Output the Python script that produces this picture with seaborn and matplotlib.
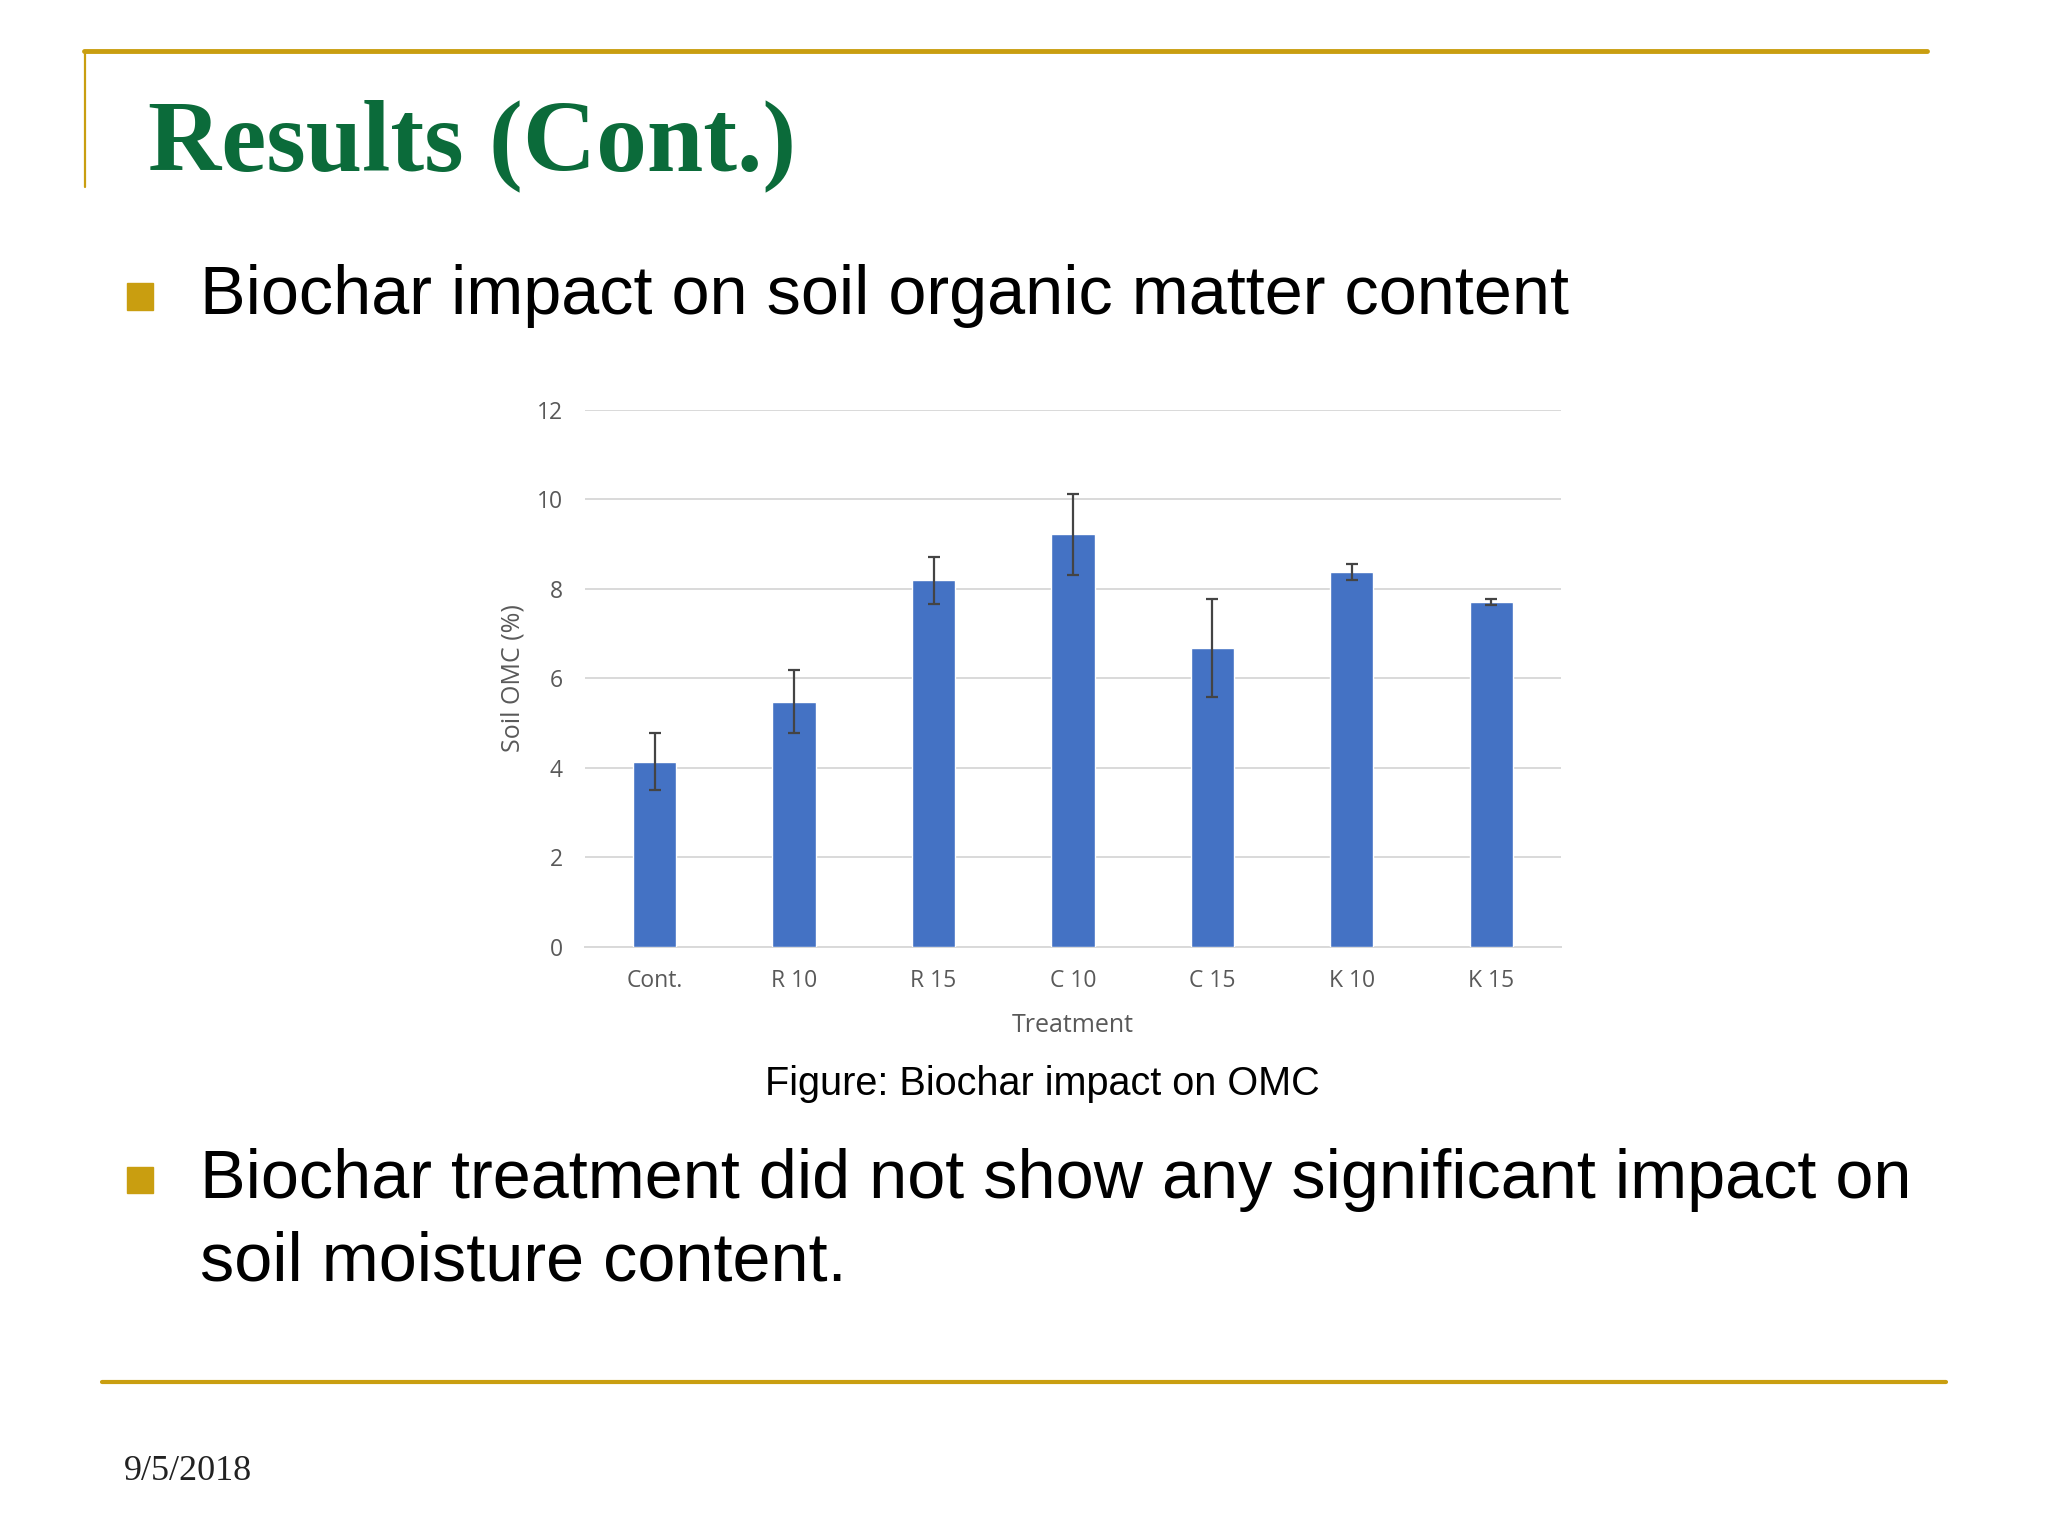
import matplotlib
matplotlib.use('Agg')
import pandas as pd
import seaborn as sns
import matplotlib.pyplot as plt
from matplotlib.patches import Rectangle
from matplotlib.lines import Line2D

# data
treatments = ['Cont.', 'R 10', 'R 15', 'C 10', 'C 15', 'K 10', 'K 15']
omc = [4.14, 5.48, 8.19, 9.22, 6.68, 8.38, 7.71]
omc_err = [0.63, 0.71, 0.52, 0.91, 1.09, 0.18, 0.06]
yticks = [0, 2, 4, 6, 8, 10, 12]

gold = '#C99E10'
green = '#0B6B3A'
grey = '#595959'

sns.set_style('white')
plt.rcParams['font.family'] = ['Open Sans', 'DejaVu Sans']

df = pd.DataFrame({'Treatment': treatments, 'OMC': omc})

fig = plt.figure(figsize=(20.48, 15.36), dpi=100)
ax = fig.add_axes([0.2856, 0.3835, 0.4766, 0.3496])

sns.barplot(data=df, x='Treatment', y='OMC', color='#4472C4', saturation=1,
            width=0.31, ax=ax, zorder=3)
ax.errorbar(range(len(treatments)), omc, yerr=omc_err, fmt='none',
            ecolor='#444444', elinewidth=1.6, capsize=4.5, capthick=1.6, zorder=4)

ax.set_ylim(0, 12)
ax.set_xlim(-0.5, len(treatments) - 0.5)
ax.set_yticks(yticks)
ax.yaxis.grid(True, color='#d9d9d9', lw=1.4, zorder=0)
ax.xaxis.grid(False)
for s in ['top', 'right', 'left']:
    ax.spines[s].set_visible(False)
ax.spines['bottom'].set_color('#d9d9d9')
ax.spines['bottom'].set_linewidth(1.4)
ax.tick_params(axis='both', length=0, labelsize=16.5, labelcolor=grey)
ax.tick_params(axis='x', pad=16)
ax.tick_params(axis='y', pad=16)
ax.set_xlabel('Treatment', fontsize=18, color=grey, labelpad=14)
ax.set_ylabel('Soil OMC (%)', fontsize=18, color=grey, labelpad=8)

# slide decoration
fig.add_artist(Line2D([0.041, 0.941], [0.9668, 0.9668], color=gold, lw=3.5,
                      transform=fig.transFigure))
fig.add_artist(Line2D([0.0415, 0.0415], [0.9668, 0.878], color=gold, lw=1.6,
                      transform=fig.transFigure))
fig.add_artist(Line2D([0.050, 0.950], [0.1003, 0.1003], color=gold, lw=3,
                      transform=fig.transFigure))

fig.text(0.0721, 0.889, 'Results (Cont.)', fontsize=73, fontweight='bold',
         color=green, family=['Liberation Serif', 'DejaVu Serif'], va='baseline')

sans = ['Liberation Sans', 'DejaVu Sans']
for yb in [0.807, 0.232]:
    fig.add_artist(Rectangle((0.062, yb - 0.0085), 0.0127, 0.0170, color=gold,
                             transform=fig.transFigure))
fig.text(0.0976, 0.807, 'Biochar impact on soil organic matter content',
         fontsize=49.2, family=sans, va='center', color='black')
fig.text(0.509, 0.294, 'Figure: Biochar impact on OMC', fontsize=28.5,
         family=sans, ha='center', va='center', color='black')
fig.text(0.0976, 0.232, 'Biochar treatment did not show any significant impact on',
         fontsize=49.2, family=sans, va='center', color='black')
fig.text(0.0976, 0.178, 'soil moisture content.', fontsize=49.2, family=sans,
         va='center', color='black')
fig.text(0.0605, 0.042, '9/5/2018', fontsize=26,
         family=['Liberation Serif', 'DejaVu Serif'], va='center', color='#222222')

fig.savefig('out.png', dpi=100, facecolor='white')
